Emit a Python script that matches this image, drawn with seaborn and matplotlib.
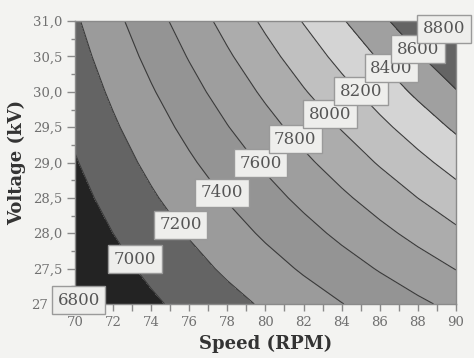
import numpy as np
import pandas as pd
import matplotlib
matplotlib.use('Agg')
import matplotlib.pyplot as plt
from matplotlib.ticker import MultipleLocator
from matplotlib.transforms import ScaledTranslation
import seaborn as sns

# grid (speed in RPM, voltage in kV)
speed = [70, 72, 74, 76, 78, 80, 82, 84, 86, 88, 90]
voltage = [27.0, 27.5, 28.0, 28.5, 29.0, 29.5, 30.0, 30.5, 31.0]
response = [
    [6800, 6885, 6970, 7055, 7140, 7225, 7310, 7395, 7480, 7565, 7650],
    [6847, 6943, 7039, 7135, 7231, 7327, 7422, 7518, 7614, 7710, 7806],
    [6894, 7000, 7107, 7214, 7321, 7428, 7535, 7642, 7749, 7856, 7963],
    [6940, 7058, 7176, 7294, 7412, 7530, 7647, 7765, 7883, 8001, 8119],
    [6987, 7116, 7245, 7373, 7502, 7631, 7760, 7889, 8017, 8146, 8275],
    [7034, 7174, 7313, 7453, 7593, 7733, 7872, 8012, 8152, 8292, 8431],
    [7081, 7231, 7382, 7533, 7683, 7834, 7985, 8135, 8286, 8437, 8588],
    [7127, 7289, 7451, 7612, 7774, 7936, 8097, 8259, 8420, 8582, 8744],
    [7174, 7347, 7519, 7692, 7864, 8037, 8210, 8382, 8555, 8727, 8900],
]

levels = [6600, 6800, 7000, 7200, 7400, 7600, 7800, 8000, 8200, 8400, 8600, 8800, 9000]
band_grays = [20, 35, 100, 155, 148, 158, 172, 192, 212, 160, 100, 70]

label_levels = [6800, 7000, 7200, 7400, 7600, 7800, 8000, 8200, 8400, 8600, 8800]
label_speed = [70.2, 73.15, 75.54, 77.72, 79.74, 81.57, 83.39, 85.01, 86.61, 88.0, 89.37]
label_voltage = [27.05, 27.63, 28.12, 28.57, 28.99, 29.33, 29.68, 30.01, 30.33, 30.6, 30.89]

ytick_vals = [27.0, 27.5, 28.0, 28.5, 29.0, 29.5, 30.0, 30.5, 31.0]
ytick_labels = ['27', '27,5', '28,0', '28,5', '29,0', '29,5', '30,0', '30,5', '31,0']
xtick_vals = [70, 72, 74, 76, 78, 80, 82, 84, 86, 88, 90]

d = pd.DataFrame(response, index=voltage, columns=speed)

sns.set_style('ticks')
plt.rcParams['font.family'] = ['DejaVu Serif', 'DejaVu Sans']

fig = plt.figure(figsize=(4.74, 3.58), dpi=100)
fig.patch.set_facecolor('#f3f3f1')
ax = fig.add_axes([0.158, 0.151, 0.804, 0.790])

fills = [(g / 255, g / 255, g / 255) for g in band_grays]
ax.contourf(d.columns, d.index, d.values, levels=levels, colors=fills)
ax.contour(d.columns, d.index, d.values, levels=label_levels,
           colors='#3a3a3a', linewidths=0.8)

for lv, sx, vy in zip(label_levels, label_speed, label_voltage):
    ax.text(sx, vy, str(lv), ha='center', va='center', fontsize=12,
            color='#555555', zorder=6,
            bbox=dict(boxstyle='square,pad=0.33', fc='#eeeeec', ec='#9a9a9a', lw=1.0))

ax.set_xlim(70, 90)
ax.set_ylim(27, 31)
ax.set_xticks(xtick_vals)
ax.set_yticks(ytick_vals, ytick_labels)
ax.xaxis.set_minor_locator(MultipleLocator(1))
ax.yaxis.set_minor_locator(MultipleLocator(0.25))
ax.tick_params(axis='both', which='both', direction='out', colors='#8a8a8a',
               labelcolor='#707070', labelsize=9.5, width=1)
ax.tick_params(axis='y', which='major', length=6, pad=3)
ax.tick_params(axis='y', which='minor', length=3)
ax.tick_params(axis='x', which='major', length=5, pad=4)
ax.tick_params(axis='x', which='minor', length=5)
for sp in ax.spines.values():
    sp.set_color('#8a8a8a')
    sp.set_linewidth(1.0)

# the "27" sits where "27,0" would start; its tail is behind the 6800 box
lab27 = ax.yaxis.get_major_ticks()[0].label1
lab27.set_transform(lab27.get_transform() + ScaledTranslation(-14 / 100, 0, fig.dpi_scale_trans))

ax.set_xlabel('Speed (RPM)', fontsize=13, fontweight='bold', color='#333333', labelpad=4)
ax.set_ylabel('Voltage (kV)', fontsize=13, fontweight='bold', color='#333333', labelpad=4)

fig.savefig('out.png', dpi=100, facecolor=fig.get_facecolor())
